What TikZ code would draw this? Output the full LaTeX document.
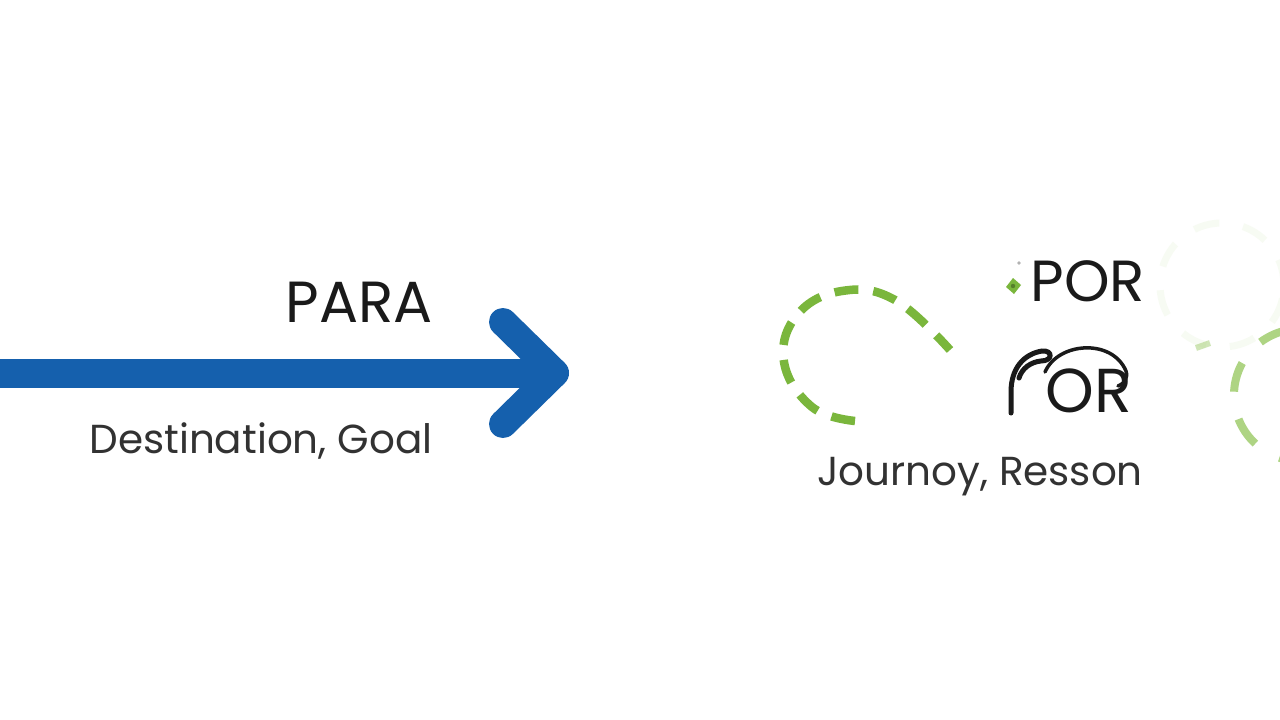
\documentclass[tikz,border=0pt]{standalone}
\usepackage{fontspec}
\setmainfont{Poppins}
\usetikzlibrary{calc}
\definecolor{arrowblue}{RGB}{21,96,173}
\definecolor{leafgreen}{RGB}{122,182,60}
\definecolor{softgreen}{RGB}{160,205,110}
\definecolor{inkdark}{RGB}{26,26,26}
\definecolor{inkgray}{RGB}{50,50,50}
\tikzset{
  bigword/.style={font=\fontsize{58}{62}\selectfont, text=inkdark, inner sep=0pt},
  caption/.style={font=\fontsize{40.5}{44}\selectfont, text=inkgray, inner sep=0pt},
  greendash/.style={draw=leafgreen, line width=8.5pt, dash pattern=on 24pt off 15pt},
  faintdash/.style={draw=softgreen, line width=8pt, dash pattern=on 30pt off 28pt},
}
\begin{document}
\begin{tikzpicture}[x=1pt,y=-1pt]
\useasboundingbox[fill=white] (0,0) rectangle (1280,720);
% blue arrow
\coordinate (shaftstart) at (-20,373);
\coordinate (shaftend) at (548,373);
\coordinate (armtop) at (503,322);
\coordinate (tip) at (555,373);
\coordinate (armbot) at (503,424);
\draw[arrowblue, line width=29pt] (shaftstart) -- (shaftend);
\draw[arrowblue, line width=28pt, line cap=round, line join=round] (armtop) -- (tip) -- (armbot);
% left texts
\node[bigword] (para) at (359,302) {PARA};
\node[caption] (dest) at (261,441) {Destination, Goal};
% green dashed arc
\draw[greendash] plot[smooth, tension=0.7] coordinates {(855,421) (812,407) (784,362) (797,315) (842,291) (895,300) (950,350)};
% POR
\node[bigword] (por) at (1088,281) {POR};
\fill[leafgreen] (1013,278) -- (1021,285) -- (1014,294) -- (1006,287) -- cycle;
\fill[leafgreen!70!black] (1013,286) circle (2.2pt);
\fill[gray!60] (1019,263) circle (1.8pt);
% rOR
\node[bigword, font=\fontsize{62}{66}\selectfont] (orw) at (1089,391) {OR};
\draw[inkdark, line width=5pt, line cap=round] (1011,413) -- (1011,392) .. controls (1011,368) and (1024,354) .. (1042,351) .. controls (1053,350) and (1053,361) .. (1041,361) .. controls (1031,362) and (1022,368) .. (1019,378);
\draw[inkdark, line width=3.5pt, line cap=round] (1045,372) .. controls (1058,342) and (1112,338) .. (1126,371) .. controls (1128,378) and (1125,383) .. (1118,386);
\node[caption] (journey) at (980,477) {Journoy, Resson};
% faint circles at right
\draw[faintdash, opacity=0.85] (1300,395) circle (66pt);
\draw[softgreen, line width=7pt, opacity=0.08, dash pattern=on 26pt off 24pt] (1222,285) circle (62pt);
\draw[softgreen, line width=6pt, opacity=0.5] (1196,348) -- (1210,343);
\end{tikzpicture}
\end{document}
